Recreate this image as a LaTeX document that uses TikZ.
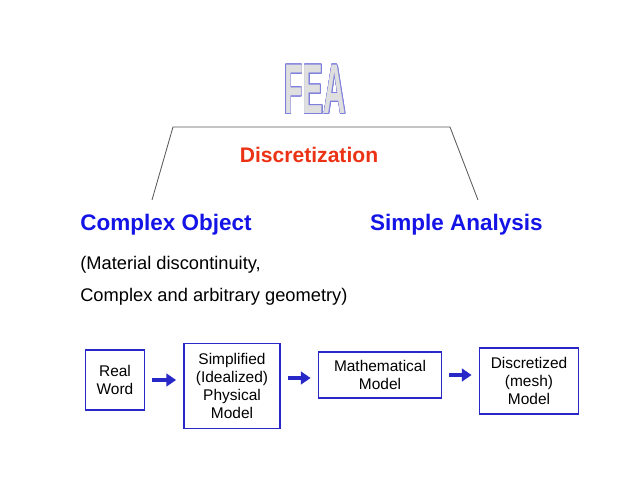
\documentclass[tikz,border=0pt]{standalone}
\usepackage{fontspec}
\setmainfont{Liberation Sans}
\usepackage{contour}
\usetikzlibrary{arrows.meta,positioning}
\definecolor{titleblue}{RGB}{20,20,230}
\definecolor{discred}{RGB}{235,50,20}
\definecolor{boxblue}{RGB}{40,40,200}
\contourlength{0.6pt}

\begin{document}
\begin{tikzpicture}[x=0.025cm,y=-0.025cm,
  box/.style={draw=boxblue, line width=1.2pt, align=center, font=\fontsize{11}{13}\selectfont, inner sep=3pt},
  flow/.style={-{Triangle[length=7pt,width=9pt]}, draw=boxblue, line width=2.5pt, shorten <=5pt, shorten >=5pt}]
\useasboundingbox (0,0) rectangle (638,493);
% Title
\node (fea) at (315,90) {\scalebox{0.55}[1.25]{\fontsize{40}{40}\selectfont\bfseries\contour{boxblue!60}{\color{gray!25}FEA}}};
% Trapezoid
\coordinate (tl) at (173,127);
\coordinate (tr) at (450,127);
\draw[gray!70!black, line width=0.6pt] (152,200) -- (tl) -- (tr) -- (478,200);
\node[text=discred, font=\fontsize{15}{17}\selectfont\bfseries] (disc) at (309,155) {Discretization};
% Headings
\node[anchor=west, text=titleblue, font=\fontsize{16}{18}\selectfont\bfseries, inner sep=0pt] (cobj) at (80,225) {Complex Object};
\node[anchor=east, text=titleblue, font=\fontsize{16}{18}\selectfont\bfseries, inner sep=0pt] (sana) at (543,225) {Simple Analysis};
\node[anchor=west, font=\fontsize{13}{15}\selectfont, inner sep=0pt] (mat) at (80,265) {(Material discontinuity,};
\node[anchor=west, font=\fontsize{13}{15}\selectfont, inner sep=0pt] (geo) at (80,297) {Complex and arbitrary geometry)};
% Process chain
\node[box, minimum width=59*0.025cm, minimum height=60*0.025cm] (real) at (115,380) {Real\\Word};
\node[box, minimum width=96*0.025cm, minimum height=85*0.025cm] (simp) at (232,386) {Simplified\\(Idealized)\\Physical\\Model};
\node[box, minimum width=123*0.025cm, minimum height=46*0.025cm] (math) at (380,375) {Mathematical\\Model};
\node[box, minimum width=99*0.025cm, minimum height=66*0.025cm] (mesh) at (529,381) {Discretized\\(mesh)\\Model};
\draw[flow] (real.east) -- (real.east -| simp.west);
\draw[flow] (simp.east |- 0,378) -- (math.west |- 0,378);
\draw[flow] (math.east) -- (math.east -| mesh.west);
\end{tikzpicture}
\end{document}
